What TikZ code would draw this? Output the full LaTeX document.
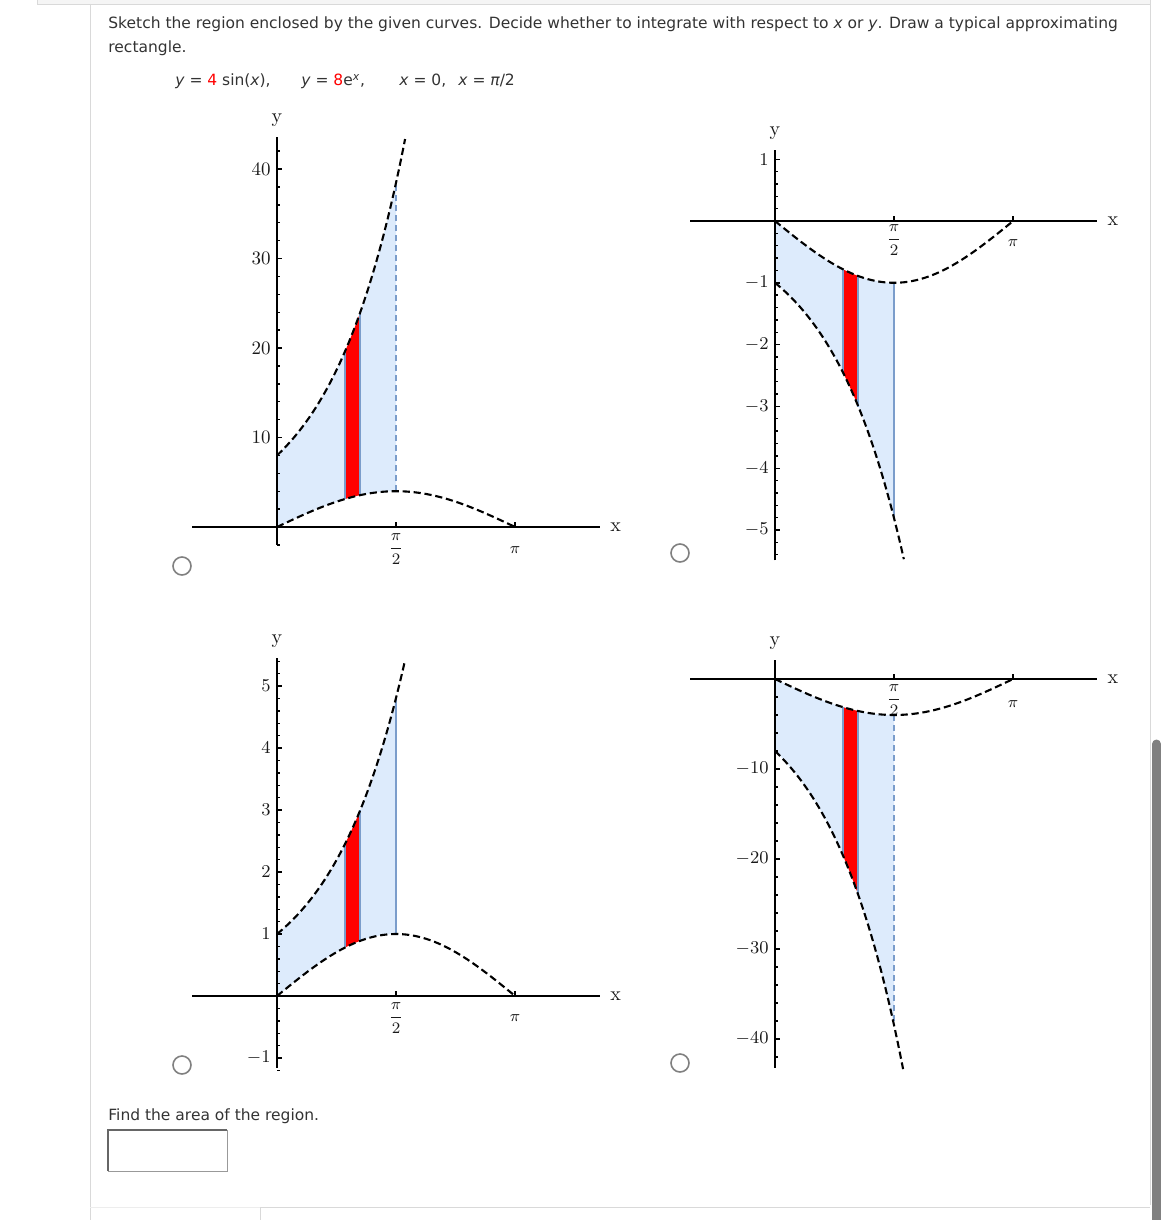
\documentclass[tikz,border=0pt]{standalone}
\usepackage{amsmath}
\usepackage{amssymb}
\usepackage{fontspec}
\usetikzlibrary{arrows,calc,positioning}
\newfontfamily\uifont{DejaVu Sans}
\definecolor{regionblue}{HTML}{DDEBFC}
\definecolor{edgeblue}{HTML}{7B9DCB}
\definecolor{framegray}{HTML}{D9D9D9}
\definecolor{textgray}{HTML}{333333}
\tikzset{
  uitext/.style={anchor=base west,inner sep=0pt,text=textgray,font=\uifont\fontsize{7.75}{9}\selectfont},
  curve/.style={draw=black,line width=1.05pt,dash pattern=on 3.6pt off 1.9pt},
  axis/.style={draw=black,line width=0.7pt},
  edge/.style={draw=edgeblue,line width=0.9pt},
  edgedash/.style={draw=edgeblue,line width=0.9pt,dash pattern=on 3pt off 2pt},
  ticklabel/.style={anchor=east,inner sep=0pt,xshift=-3pt,text=black!90,font=\fontsize{9.5}{11}\selectfont},
  axlabel/.style={inner sep=0pt,text=black!90,font=\fontsize{10}{11}\selectfont},
  pilabel/.style={inner sep=0pt,text=black!90,font=\fontsize{8.5}{10}\selectfont},
  radio/.style={circle,draw=black!50,line width=0.8pt,inner sep=0pt,minimum size=9pt}
}
\begin{document}
\begin{tikzpicture}[x=0.5pt,y=-0.5pt]
\useasboundingbox (0,0) rectangle (1170,1220);
\draw[framegray,fill=black!4] (37,-6) rectangle (1150,4);
\draw[framegray] (90,4) -- (90,1220);
\draw[framegray] (1150,4) -- (1150,1205);
\draw[black!7] (90,1207) -- (260,1207);
\draw[framegray] (260,1220) -- (260,1207) -- (1150,1207);
\draw[line width=4.5pt,line cap=round,draw=black!50] (1156.5,744) -- (1156.5,1226);

\node[uitext] (intro1) at (108,29) {Sketch the region enclosed by the given curves. Decide whether to integrate with respect to {\itshape x} or {\itshape y}. Draw a typical approximating};
\node[uitext] (intro2) at (108,53) {rectangle.};
\node[uitext] (eq1) at (175,86) {{\itshape y} = \textcolor{red}{4} sin({\itshape x}),};
\node[uitext] (eq2) at (301,86) {{\itshape y} = \textcolor{red}{8}e\textsuperscript{\itshape x},};
\node[uitext] (eq3) at (399,86) {{\itshape x} = 0,};
\node[uitext] (eq4) at (458,86) {{\itshape x} = {\itshape π}/2};

\node[radio] (opt1) at (182,566) {};
\node[radio] (opt2) at (680,553) {};
\node[radio] (opt3) at (182,1065) {};
\node[radio] (opt4) at (680,1063) {};

\node[uitext] (findarea) at (108,1120) {Find the area of the region.};
\draw[black!40] (108,1130) rectangle (227,1171);
\draw[black!60,line width=0.8pt] (108,1171) -- (108,1130) -- (227,1130);

\begin{scope}[shift={(277,527)},x=37.9pt,y=4.475pt]
  \fill[regionblue] plot[domain=0:pi/2,samples=50] (\x,{8*exp(\x)}) -- plot[domain=pi/2:0,samples=50] (\x,{4*sin(\x r)}) -- cycle;
  \fill[red] plot[domain=0.9:1.1,samples=10] (\x,{8*exp(\x)}) -- plot[domain=1.1:0.9,samples=10] (\x,{4*sin(\x r)}) -- cycle;
  \draw[edge] (0.9,{4*sin(0.9 r)}) -- (0.9,{8*exp(0.9)});
  \draw[edge] (1.1,{4*sin(1.1 r)}) -- (1.1,{8*exp(1.1)});
  \draw[edgedash] ({pi/2},4) -- ({pi/2},{8*exp(pi/2)});
  \draw[curve] plot[domain=0:1.69,samples=60] (\x,{8*exp(\x)});
  \draw[curve] plot[domain=0:pi,samples=60] (\x,{4*sin(\x r)});
  \draw[axis] (-1.12,0) -- (4.26,0) coordinate (g1xend);
  \draw[axis] (0,-2.0) -- (0,43.6) coordinate (g1ytop);
  \foreach \t in {-2,0,...,42} \draw[axis] (0,\t) -- ++(1.3pt,0);
  \foreach \t in {10,20,30,40} {
    \draw[axis] (0,\t) -- ++(2.6pt,0);
    \node[ticklabel] (g1t\t) at (0,\t) {\t};
  }
  \draw[axis] ({pi/2},0) -- ++(0,2.5pt);
  \draw[axis] ({pi},0) -- ++(0,2.5pt);
  \node[pilabel,yshift=-11pt] (g1half) at ({pi/2},0) {$\dfrac{\pi}{2}$};
  \node[pilabel,yshift=-11.5pt] (g1pi) at ({pi},0) {$\pi$};
  \node[axlabel,right=5pt of g1xend] (g1x) {x};
  \node[axlabel,above=5pt of g1ytop] (g1y) {y};
\end{scope}

\begin{scope}[shift={(775,221)},x=37.9pt,y=30.9pt]
  \fill[regionblue] plot[domain=0:pi/2,samples=50] (\x,{-sin(\x r)}) -- plot[domain=pi/2:0,samples=50] (\x,{-exp(\x)}) -- cycle;
  \fill[red] plot[domain=0.9:1.1,samples=10] (\x,{-sin(\x r)}) -- plot[domain=1.1:0.9,samples=10] (\x,{-exp(\x)}) -- cycle;
  \draw[edge] (0.9,{-exp(0.9)}) -- (0.9,{-sin(0.9 r)});
  \draw[edge] (1.1,{-exp(1.1)}) -- (1.1,{-sin(1.1 r)});
  \draw[edge] ({pi/2},-1) -- ({pi/2},{-exp(pi/2)});
  \draw[curve] plot[domain=0:pi,samples=60] (\x,{-sin(\x r)});
  \draw[curve] plot[domain=0:1.70,samples=60] (\x,{-exp(\x)});
  \draw[axis] (-1.12,0) -- (4.25,0) coordinate (g2xend);
  \draw[axis] (0,-5.49) -- (0,1.15) coordinate (g2ytop);
  \foreach \t in {-5.4,-5.2,...,1.05} \draw[axis] (0,\t) -- ++(1.3pt,0);
  \foreach \t in {-5,-4,-3,-2,-1,1} {
    \draw[axis] (0,\t) -- ++(2.6pt,0);
    \node[ticklabel] (g2t\t) at (0,\t) {$\t$};
  }
  \draw[axis] ({pi/2},0) -- ++(0,2.5pt);
  \draw[axis] ({pi},0) -- ++(0,2.5pt);
  \node[pilabel,yshift=-9.5pt] (g2half) at ({pi/2},0) {$\dfrac{\pi}{2}$};
  \node[pilabel,yshift=-11pt] (g2pi) at ({pi},0) {$\pi$};
  \node[axlabel,right=5pt of g2xend] (g2x) {x};
  \node[axlabel,above=5pt of g2ytop] (g2y) {y};
\end{scope}

\begin{scope}[shift={(277,996)},x=37.9pt,y=31pt]
  \fill[regionblue] plot[domain=0:pi/2,samples=50] (\x,{exp(\x)}) -- plot[domain=pi/2:0,samples=50] (\x,{sin(\x r)}) -- cycle;
  \fill[red] plot[domain=0.9:1.1,samples=10] (\x,{exp(\x)}) -- plot[domain=1.1:0.9,samples=10] (\x,{sin(\x r)}) -- cycle;
  \draw[edge] (0.9,{sin(0.9 r)}) -- (0.9,{exp(0.9)});
  \draw[edge] (1.1,{sin(1.1 r)}) -- (1.1,{exp(1.1)});
  \draw[edge] ({pi/2},1) -- ({pi/2},{exp(pi/2)});
  \draw[curve] plot[domain=0:1.69,samples=60] (\x,{exp(\x)});
  \draw[curve] plot[domain=0:pi,samples=60] (\x,{sin(\x r)});
  \draw[axis] (-1.12,0) -- (4.26,0) coordinate (g3xend);
  \draw[axis] (0,-1.16) -- (0,5.45) coordinate (g3ytop);
  \foreach \t in {-1.2,-1.0,...,5.45} \draw[axis] (0,\t) -- ++(1.3pt,0);
  \foreach \t in {-1,1,2,3,4,5} {
    \draw[axis] (0,\t) -- ++(2.6pt,0);
    \node[ticklabel] (g3t\t) at (0,\t) {$\t$};
  }
  \draw[axis] ({pi/2},0) -- ++(0,2.5pt);
  \draw[axis] ({pi},0) -- ++(0,2.5pt);
  \node[pilabel,yshift=-11pt] (g3half) at ({pi/2},0) {$\dfrac{\pi}{2}$};
  \node[pilabel,yshift=-11pt] (g3pi) at ({pi},0) {$\pi$};
  \node[axlabel,right=5pt of g3xend] (g3x) {x};
  \node[axlabel,above=5pt of g3ytop] (g3y) {y};
\end{scope}

\begin{scope}[shift={(775,679)},x=37.9pt,y=4.5pt]
  \fill[regionblue] plot[domain=0:pi/2,samples=50] (\x,{-4*sin(\x r)}) -- plot[domain=pi/2:0,samples=50] (\x,{-8*exp(\x)}) -- cycle;
  \fill[red] plot[domain=0.9:1.1,samples=10] (\x,{-4*sin(\x r)}) -- plot[domain=1.1:0.9,samples=10] (\x,{-8*exp(\x)}) -- cycle;
  \draw[edge] (0.9,{-8*exp(0.9)}) -- (0.9,{-4*sin(0.9 r)});
  \draw[edge] (1.1,{-8*exp(1.1)}) -- (1.1,{-4*sin(1.1 r)});
  \draw[edgedash] ({pi/2},-4) -- ({pi/2},{-8*exp(pi/2)});
  \node[pilabel,yshift=-10.5pt] (g4half) at ({pi/2},0) {$\dfrac{\pi}{2}$};
  \node[pilabel,yshift=-12.5pt] (g4pi) at ({pi},0) {$\pi$};
  \draw[curve] plot[domain=0:pi,samples=60] (\x,{-4*sin(\x r)});
  \draw[curve] plot[domain=0:1.69,samples=60] (\x,{-8*exp(\x)});
  \draw[axis] (-1.12,0) -- (4.25,0) coordinate (g4xend);
  \draw[axis] (0,-43.2) -- (0,2.1) coordinate (g4ytop);
  \foreach \t in {-42,-40,...,0} \draw[axis] (0,\t) -- ++(1.3pt,0);
  \foreach \t in {-40,-30,-20,-10} {
    \draw[axis] (0,\t) -- ++(2.6pt,0);
    \node[ticklabel] (g4t\t) at (0,\t) {$\t$};
  }
  \draw[axis] ({pi/2},0) -- ++(0,2.5pt);
  \draw[axis] ({pi},0) -- ++(0,2.5pt);
  \node[axlabel,right=5pt of g4xend] (g4x) {x};
  \node[axlabel,above=5pt of g4ytop] (g4y) {y};
\end{scope}
\end{tikzpicture}
\end{document}
